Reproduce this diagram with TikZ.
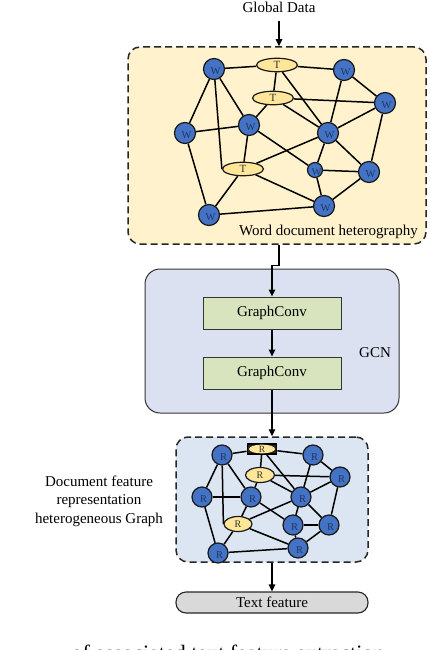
\documentclass[tikz,border=0pt]{standalone}
\usepackage{fontspec}
\setmainfont{Liberation Serif}
\usetikzlibrary{arrows.meta,shapes.geometric}
\definecolor{creamfill}{HTML}{FFF2CC}
\definecolor{bluefill}{HTML}{DCE6F2}
\definecolor{gcnfill}{HTML}{DCE1F2}
\definecolor{convfill}{HTML}{D7E4BD}
\definecolor{wblue}{HTML}{4472C4}
\definecolor{tyellow}{HTML}{FFE699}
\definecolor{tffill}{HTML}{D9D9D9}
\definecolor{lblblue}{HTML}{1F3864}
\pgfdeclarelayer{bg}
\pgfdeclarelayer{edges}
\pgfsetlayers{bg,edges,main}
\tikzset{
  bigtext/.style={font=\fontsize{15}{18.5}\selectfont},
  dashbox/.style={draw=black!85, line width=1.5pt, dash pattern=on 7pt off 4pt, rounded corners=12pt},
  solidbox/.style={draw=black!80, line width=1pt},
  nlbl/.style={font=\fontsize{10.5}{11}\selectfont, text=lblblue, xshift=1.5pt, yshift=-2pt},
  wn/.style={circle, draw=black!90, line width=1.2pt, fill=wblue, minimum size=21pt, inner sep=0pt, label={[nlbl]center:#1}},
  wsm/.style={wn=#1, minimum size=15pt},
  rn/.style={wn=#1, minimum size=20pt},
  tn/.style={ellipse, draw=black!90, line width=1.2pt, fill=tyellow, minimum width=41pt, minimum height=13.5pt, inner sep=0pt, font=\fontsize{11}{11}\selectfont, text=black!80},
  rel/.style={tn, minimum width=29pt, minimum height=15pt, font=\fontsize{10}{10}\selectfont},
  edge/.style={line width=1.5pt, black},
  arr/.style={line width=1.4pt, black, -{Triangle[length=7pt,width=6.5pt]}},
}
\begin{document}
\begin{tikzpicture}[x=1pt,y=-1pt]
\useasboundingbox (0,0) rectangle (430,650);

\begin{pgfonlayer}{bg}
\fill[white] (0,0) rectangle (430,650);
\node[dashbox, fill=creamfill, minimum width=298pt, minimum height=197pt] (box1) at (277,145.5) {};
\node[solidbox, fill=gcnfill, rounded corners=15pt, minimum width=254pt, minimum height=144pt] (gcn) at (272,341) {};
\node[dashbox, fill=bluefill, minimum width=192pt, minimum height=125pt] (box3) at (272,499.5) {};
\end{pgfonlayer}

% texts
\node[bigtext, anchor=base, inner sep=0pt] (gd) at (279,13) {Global Data};
\node[bigtext, anchor=base east, inner sep=0pt] (wdh) at (418,235) {Word document heterography};
\node[bigtext, anchor=base, inner sep=0pt] (gcnl) at (375,357) {GCN};
\node[bigtext, align=center, inner sep=0pt] (lt) at (99,501) {Document feature\\representation\\heterogeneous Graph};

% GCN blocks
\node[solidbox, fill=convfill, minimum width=138pt, minimum height=32pt, bigtext] (gc1) at (272,313) {GraphConv};
\node[solidbox, fill=convfill, minimum width=138pt, minimum height=32pt, bigtext] (gc2) at (272,373) {GraphConv};

% text feature
\node[draw=black!85, line width=1.1pt, fill=tffill, rounded corners=10pt, minimum width=192pt, minimum height=21pt, inner sep=0pt, bigtext] (tf) at (272,602.5) {Text feature};

% graph 1
\node[wn=W] (w1) at (214,69) {};
\node[tn] (t1) at (277,65) {T};
\node[wn=W] (w2) at (344,70) {};
\node[tn] (t2) at (273,98) {T};
\node[wn=W] (w3) at (385,103) {};
\node[wn=W] (w4) at (185,133) {};
\node[wn=W] (w5) at (249,125) {};
\node[wn=W] (w6) at (328,133) {};
\node[tn] (t3) at (243,169) {T};
\node[wsm=W] (w7) at (315,170) {};
\node[wn=W] (w8) at (369,172) {};
\node[wn=W] (w9) at (209,215) {};
\node[wn=W] (w10) at (324,206) {};

% graph 2
\node[rn=R] (r1) at (222,455) {};
\node[draw=black, line width=1.8pt, fill=black!85, minimum width=29pt, minimum height=10pt, inner sep=0pt] (rb) at (262,449) {};
\node[ellipse, fill=tyellow, minimum width=26pt, minimum height=8.5pt, inner sep=0pt, font=\fontsize{9.5}{9.5}\selectfont, text=black!80] (rbe) at (rb.center) {R};
\node[rn=R] (r2) at (313,455) {};
\node[rel] (re1) at (260,475) {R};
\node[rn=R] (r3) at (340,477) {};
\node[rn=R] (r4) at (202,497) {};
\node[rn=R] (r5) at (251,497) {};
\node[rn=R] (r6) at (301,497) {};
\node[rel, minimum width=28pt] (re2) at (238,524) {R};
\node[rn=R] (r7) at (293,525) {};
\node[rn=R] (r8) at (329,525) {};
\node[rn=R] (r9) at (218,553) {};
\node[rn=R] (r10) at (298,548) {};

\begin{pgfonlayer}{edges}
\foreach \a/\b in {w1/t1, t1/w2, w1/w4, w1/w5, w1/t3.west, t1/t2, t1/w6, t2/w3, t2/w5, t2/w6,
  w2/w3, w2/w6, w3/w6, w3/w8, w4/w5, w4/w9, w5/t3, w5/w7, t3/w6, t3/w10, t3/w9,
  w6/w7, w6/w8, w7/w8, w7/w10, w9/w10, w10/w8}
  \draw[edge] (\a) -- (\b);
\foreach \a/\b in {r1/rb, rb/r2, r1/r4, r1/r5, r1/re2.west, rb/re1, rb/r6, re1/r3, re1/r5, re1/r6,
  r2/r3, r2/r6, r3/r6, r3/r8, r4/r5, r4/r9, r5/re2, r5/r7, re2/r6, re2/r10, re2/r9,
  r6/r7, r6/r8, r7/r8, r7/r10, r9/r10, r10/r8}
  \draw[edge] (\a) -- (\b);
\end{pgfonlayer}

% arrows
\draw[arr] ([yshift=-8pt]gd.south) -- (gd.south |- box1.north);
\draw[arr] (gd.south |- box1.south) -- ++(0,21) -| (gc1.north);
\draw[arr] (gc1.south) -- (gc2.north);
\draw[arr] (gc2.south) -- (box3.north);
\draw[arr] (box3.south) -- (tf.north);

% clipped caption
\begin{scope}
\clip (0,0) rectangle (430,650);
\node[font=\fontsize{22}{24}\selectfont, anchor=base, inner sep=0pt] (cap) at (228,660) {of associated text feature extraction};
\end{scope}
\end{tikzpicture}
\end{document}
